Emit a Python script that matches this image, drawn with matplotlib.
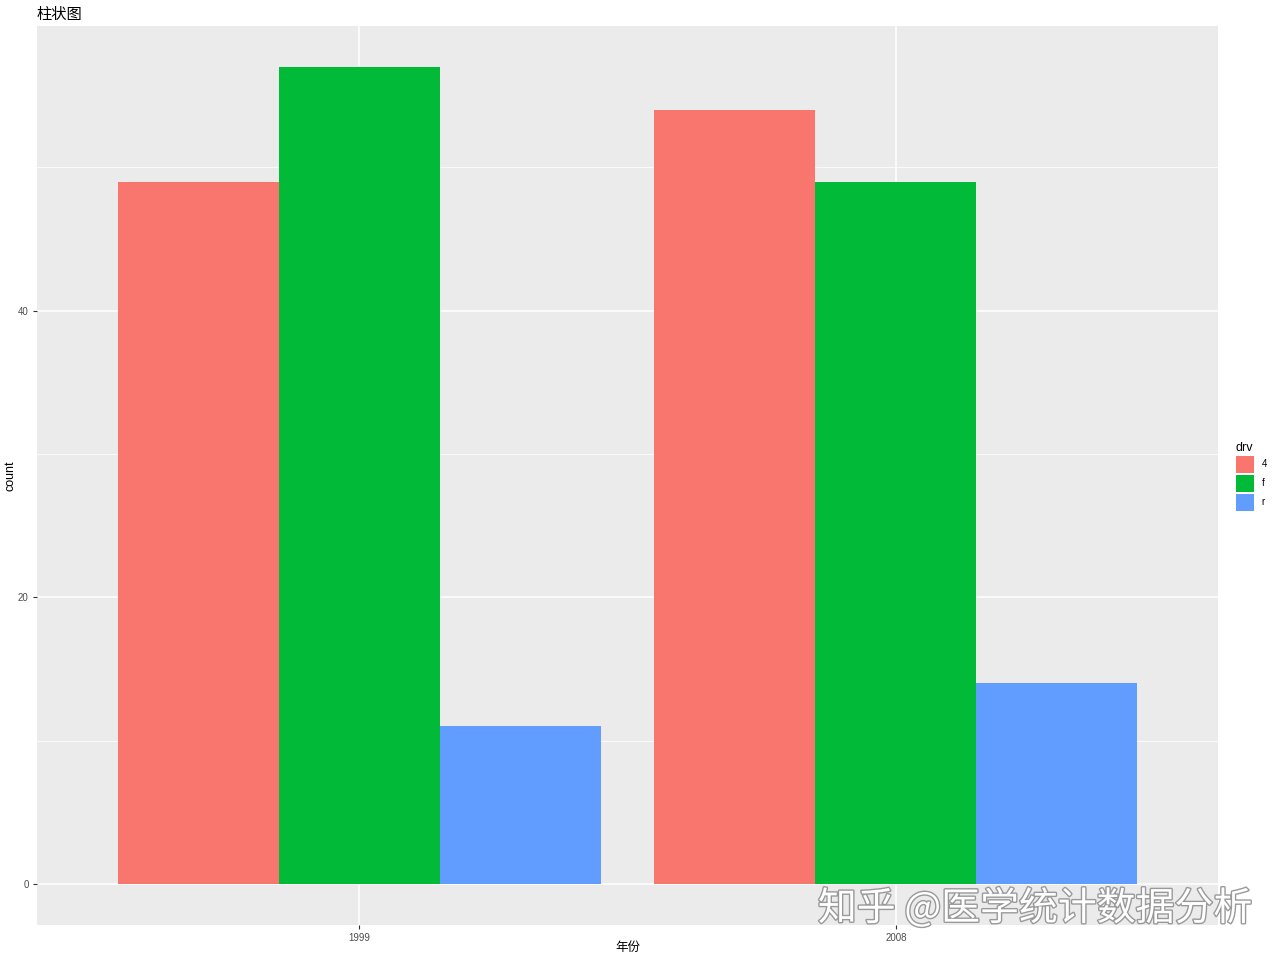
import numpy as np
import matplotlib.pyplot as plt
import matplotlib.patheffects as pe

plt.rcParams['font.family'] = ['Liberation Sans', 'Noto Sans CJK SC', 'DejaVu Sans']

years = ['1999', '2008']
drv = ['4', 'f', 'r']
counts = {
    '4': [49, 54],
    'f': [57, 49],
    'r': [11, 14],
}
colors = ['#F8766D', '#00BA38', '#619CFF']

fig = plt.figure(figsize=(12.8, 9.6), dpi=100)
ax = fig.add_axes([37/1280, 35/960, (1218-37)/1280, (925-26)/960])
ax.set_facecolor('#EBEBEB')

x = np.arange(1, len(years)+1)
w = 0.3
for i, d in enumerate(drv):
    ax.bar(x + (i-1)*w, counts[d], width=w, color=colors[i], label=d, zorder=3)

ax.set_xlim(0.4, 2.6)
ax.set_ylim(-2.85, 59.85)
ax.set_xticks(x)
ax.set_xticklabels(years)
ax.set_yticks([0, 20, 40])
ax.set_yticks([10, 30, 50], minor=True)
ax.grid(which='major', color='white', lw=1.1, zorder=0)
ax.grid(which='minor', axis='y', color='white', lw=0.55, zorder=0)
ax.tick_params(which='major', length=3, color='#333333', labelsize=7, labelcolor='#4D4D4D', pad=3)
ax.tick_params(which='minor', length=0)
for s in ax.spines.values():
    s.set_visible(False)

ax.set_xlabel('年份', fontsize=9)
ax.set_ylabel('count', fontsize=9)
ax.xaxis.set_label_coords(0.5, -(948-925)/899, transform=ax.transAxes)
ax.yaxis.set_label_coords(-(37-11)/1181, 0.5, transform=ax.transAxes)
ax.xaxis.label.set_va('center')
ax.yaxis.label.set_va('center')
ax.set_title('柱状图', loc='left', fontsize=11, pad=5)

leg = ax.legend(title='drv', loc='upper left', bbox_to_anchor=(1236/1280, 1-442/960),
                bbox_transform=fig.transFigure, frameon=False, borderpad=0, borderaxespad=0,
                fontsize=7, title_fontsize=9, handlelength=1.85, handleheight=2.3,
                handletextpad=0.8, labelspacing=0.2)
leg._legend_box.align = 'left'

fig.text(1035/1280, 1-909/960, '知乎 @医学统计数据分析', ha='center', va='center',
         fontsize=28, color='white', family=['Noto Sans CJK SC'],
         path_effects=[pe.withStroke(linewidth=2, foreground='#999999')])

fig.savefig('out.png', dpi=100)
